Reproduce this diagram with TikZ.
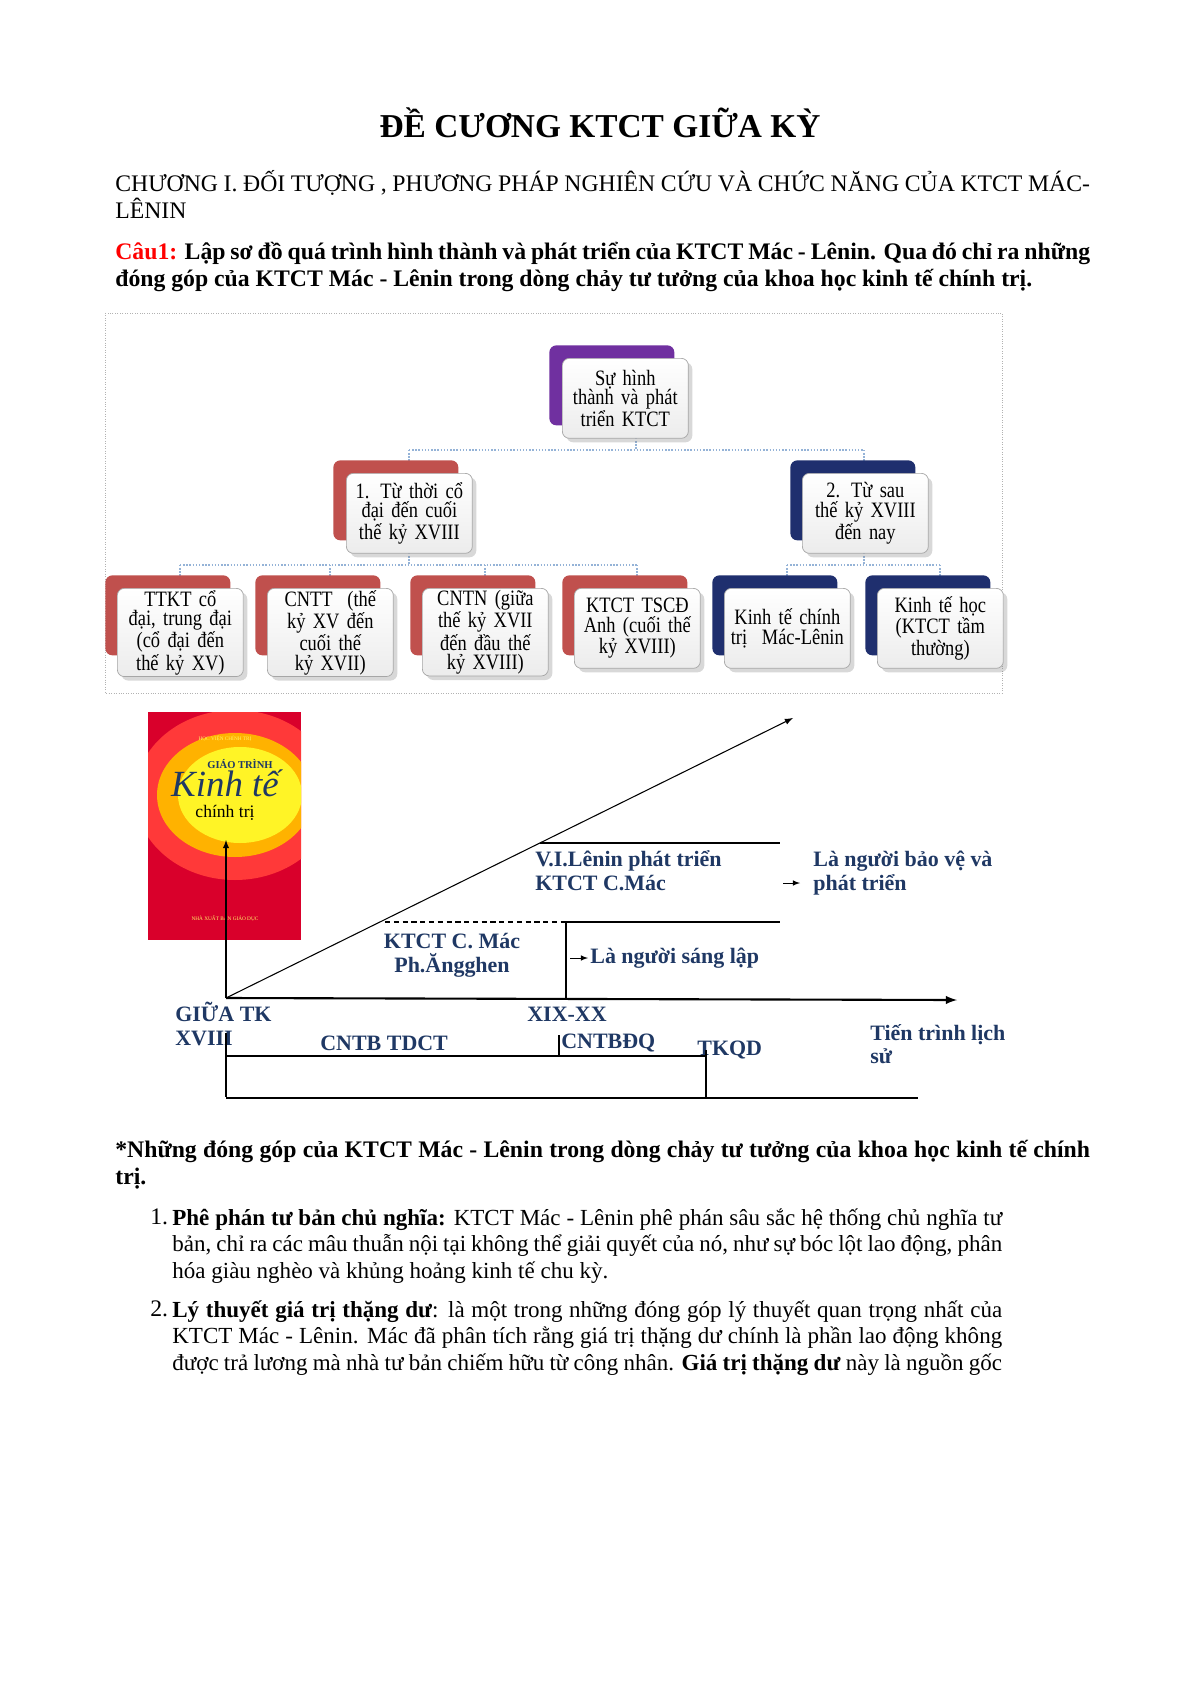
\documentclass[tikz,border=0pt]{standalone}
\usepackage{fontspec}
\setmainfont{Liberation Serif}
\newfontfamily\boxfont[FakeStretch=0.84]{Liberation Serif}
\usetikzlibrary{positioning,shadows}
\definecolor{navy}{HTML}{1F3864}
\definecolor{boxpurple}{HTML}{7030A0}
\definecolor{boxred}{HTML}{C0504D}
\definecolor{boxblue}{HTML}{1F2F6E}
\definecolor{linkblue}{HTML}{95B3D7}
\tikzstyle{backbox} = [rounded corners=4pt, minimum width=2.5cm, minimum height=1.6cm, anchor=north west]
\tikzstyle{frontbox} = [draw=gray!70, rounded corners=4pt, top color=white, bottom color=gray!15,
    minimum width=2.52cm, minimum height=1.6cm, text width=2.3cm, align=center,
    font=\boxfont\fontsize{12.5}{11}\selectfont, inner sep=1pt, drop shadow={opacity=0.3}, anchor=north west]
\tikzstyle{link} = [draw=linkblue, densely dotted, line width=0.8pt]
\tikzstyle{para} = [anchor=north west, inner sep=0pt, align=justify,
    font=\fontsize{13.5}{15.2}\selectfont]
\tikzstyle{item} = [para, text width=16.6cm, font=\fontsize{13.1}{15.2}\selectfont]
\tikzstyle{tlabel} = [anchor=west, inner sep=0pt, text=navy, align=left,
    font=\bfseries\fontsize{12.5}{13.5}\selectfont]
\tikzstyle{tline} = [line width=0.6pt]
\begin{document}
\begin{tikzpicture}[x=0.02cm, y=-0.02cm]
    \useasboundingbox[fill=white] (0,0) rectangle (1200,1696);

    % heading
    \node (title) at (600,123) {\bfseries\fontsize{19}{20}\selectfont ĐỀ CƯƠNG KTCT GIỮA KỲ};
    \node (chapter) [para, text width=19.5cm] at (115,170)
        {CHƯƠNG I. ĐỐI TƯỢNG , PHƯƠNG PHÁP NGHIÊN CỨU VÀ CHỨC NĂNG CỦA KTCT MÁC- LÊNIN};
    \node (question) [para, text width=19.5cm] at (115,242)
        {\bfseries\textcolor{red}{Câu1:} Lập sơ đồ quá trình hình thành và phát triển của KTCT Mác - Lênin. Qua đó chỉ ra những đóng góp của KTCT Mác - Lênin trong dòng chảy tư tưởng của khoa học kinh tế chính trị.};

    % dotted frame of the chart
    \draw[gray!60, densely dotted] (105,313) rectangle (1002,693);

    % connectors
    \path[link] (636,438) -- (636,450) (409,450) -- (864,450) (409,450) -- (409,473) (864,450) -- (864,473);
    \path[link] (409,553) -- (409,565) (180,565) -- (637,565);
    \path[link] (864,553) -- (864,565) (787,565) -- (940,565);
    \foreach \cx in {180,330,485,637,787,940}
        \path[link] (\cx,565) -- (\cx,588);

    % boxes: back colour plate, then front label
    \node (rootb) [backbox, fill=boxpurple] at (549,345) {};
    \node (root) [frontbox] at (562,358) {Sự hình thành và phát triển KTCT};
    \node (leftb) [backbox, fill=boxred] at (333,460) {};
    \node (left) [frontbox] at (346,473) {1. Từ thời cổ đại đến cuối thế kỷ XVIII};
    \node (rightb) [backbox, fill=boxblue] at (790,460) {};
    \node (right) [frontbox] at (802,473) {2. Từ sau thế kỷ XVIII đến nay};

    \foreach \bx/\col/\txt [count=\i] in {
        105/boxred/{TTKT cổ đại, trung đại (cổ đại đến thế kỷ XV)},
        255/boxred/{CNTT \ (thế kỷ XV đến cuối thế kỷ XVII)},
        410/boxred/{CNTN (giữa thế kỷ XVII đến đầu thế kỷ XVIII)},
        562/boxred/{KTCT TSCĐ Anh (cuối thế kỷ XVIII)},
        712/boxblue/{Kinh tế chính trị \ Mác-Lênin},
        865/boxblue/{Kinh tế học (KTCT tầm thường)}} {
        \node (leafb\i) [backbox, fill=\col] at (\bx,575) {};
        \node (leaf\i) [frontbox] at (\bx+12,588) {\txt};
    }

    % book cover
    \begin{scope}
        \clip (148,712) rectangle (301,940);
        \fill[red!80!magenta!85!black] (148,712) rectangle (301,940);
        \fill[red!70!pink] (235,795) ellipse (100 and 85);
        \fill[orange!60!yellow] (235,795) ellipse (78 and 62);
        \fill[yellow!85!white] (240,795) ellipse (62 and 48);
    \end{scope}
    \node (booktop) at (225,739) {\fontsize{3}{3}\selectfont\color{yellow!60}HỌC VIỆN CHÍNH TRỊ};
    \node (bookser) at (240,764) {\fontsize{6}{6}\selectfont\bfseries\color{navy}GIÁO TRÌNH};
    \node (bookttl) [align=center] at (225,795) {\itshape\fontsize{21}{17}\selectfont\color{navy}Kinh tế\\ chính trị};
    \node (bookpub) at (225,919) {\fontsize{3}{3}\selectfont\color{yellow!60}NHÀ XUẤT BẢN GIÁO DỤC};

    % axes of the timeline
    \coordinate (o) at (226,998);
    \coordinate (ytop) at (226,840);
    \coordinate (diag) at (793,718);
    \coordinate (xend) at (957,1000);
    \draw[tline, -latex] (o) -- (ytop);
    \draw[tline, -latex] (o) -- (diag);
    \draw[line width=1.2pt, -latex] (o) -- (xend);

    % stages
    \draw[tline] (540,843) -- (780,843);
    \draw[tline, densely dashed] (385,922) -- (566,922);
    \draw[tline] (566,922) -- (780,922);
    \draw[tline] (566,922) -- (566,1000);

    \node (lenin) [tlabel] at (535,871) {V.I.Lênin phát triển\\KTCT C.Mác};
    \node (protect) [tlabel] at (813,873) {Là người bảo vệ và\\phát triển};
    \draw[-latex] (783,883) -- (800,883);
    \node (marx) [tlabel, anchor=center, align=center] at (452,955) {KTCT C. Mác\\Ph.Ăngghen};
    \node (found) [tlabel] at (590,958) {Là người sáng lập};
    \draw[-latex] (570,958) -- (588,958);

    % period labels
    \node (mid18) [tlabel] at (175,1024) {GIỮA TK\\XVIII};
    \node (c19) [tlabel] at (527,1014) {XIX-XX};
    \node (cntb) [tlabel] at (320,1043) {CNTB TDCT};
    \node (cntbdq) [tlabel] at (561,1043) {CNTBĐQ};
    \node (tkqd) [tlabel] at (697,1050) {TKQD};
    \node (history) [tlabel] at (870,1044) {Tiến trình lịch\\sử};
    \draw[tline] (226,1033) -- (226,1097);
    \draw[tline] (559,1035) -- (559,1056);
    \draw[tline] (226,1056) -- (706,1056);
    \draw[tline] (706,1050) -- (706,1097);
    \draw[tline] (226,1098) -- (918,1098);

    % contributions
    \node (contrib) [para, text width=19.5cm] at (115,1140)
        {\bfseries *Những đóng góp của KTCT Mác - Lênin trong dòng chảy tư tưởng của khoa học kinh tế chính trị.};
    \node (num1) [para] at (150,1208) {1.};
    \node (item1) [item] at (172,1208)
        {\textbf{Phê phán tư bản chủ nghĩa:} KTCT Mác - Lênin phê phán sâu sắc hệ thống chủ nghĩa tư bản, chỉ ra các mâu thuẫn nội tại không thể giải quyết của nó, như sự bóc lột lao động, phân hóa giàu nghèo và khủng hoảng kinh tế chu kỳ.};
    \node (num2) [para] at (150,1300) {2.};
    \node (item2) [item] at (172,1300)
        {\textbf{Lý thuyết giá trị thặng dư}: là một trong những đóng góp lý thuyết quan trọng nhất của KTCT Mác - Lênin. Mác đã phân tích rằng giá trị thặng dư chính là phần lao động không được trả lương mà nhà tư bản chiếm hữu từ công nhân. \textbf{Giá trị thặng dư} này là nguồn gốc};
\end{tikzpicture}
\end{document}
